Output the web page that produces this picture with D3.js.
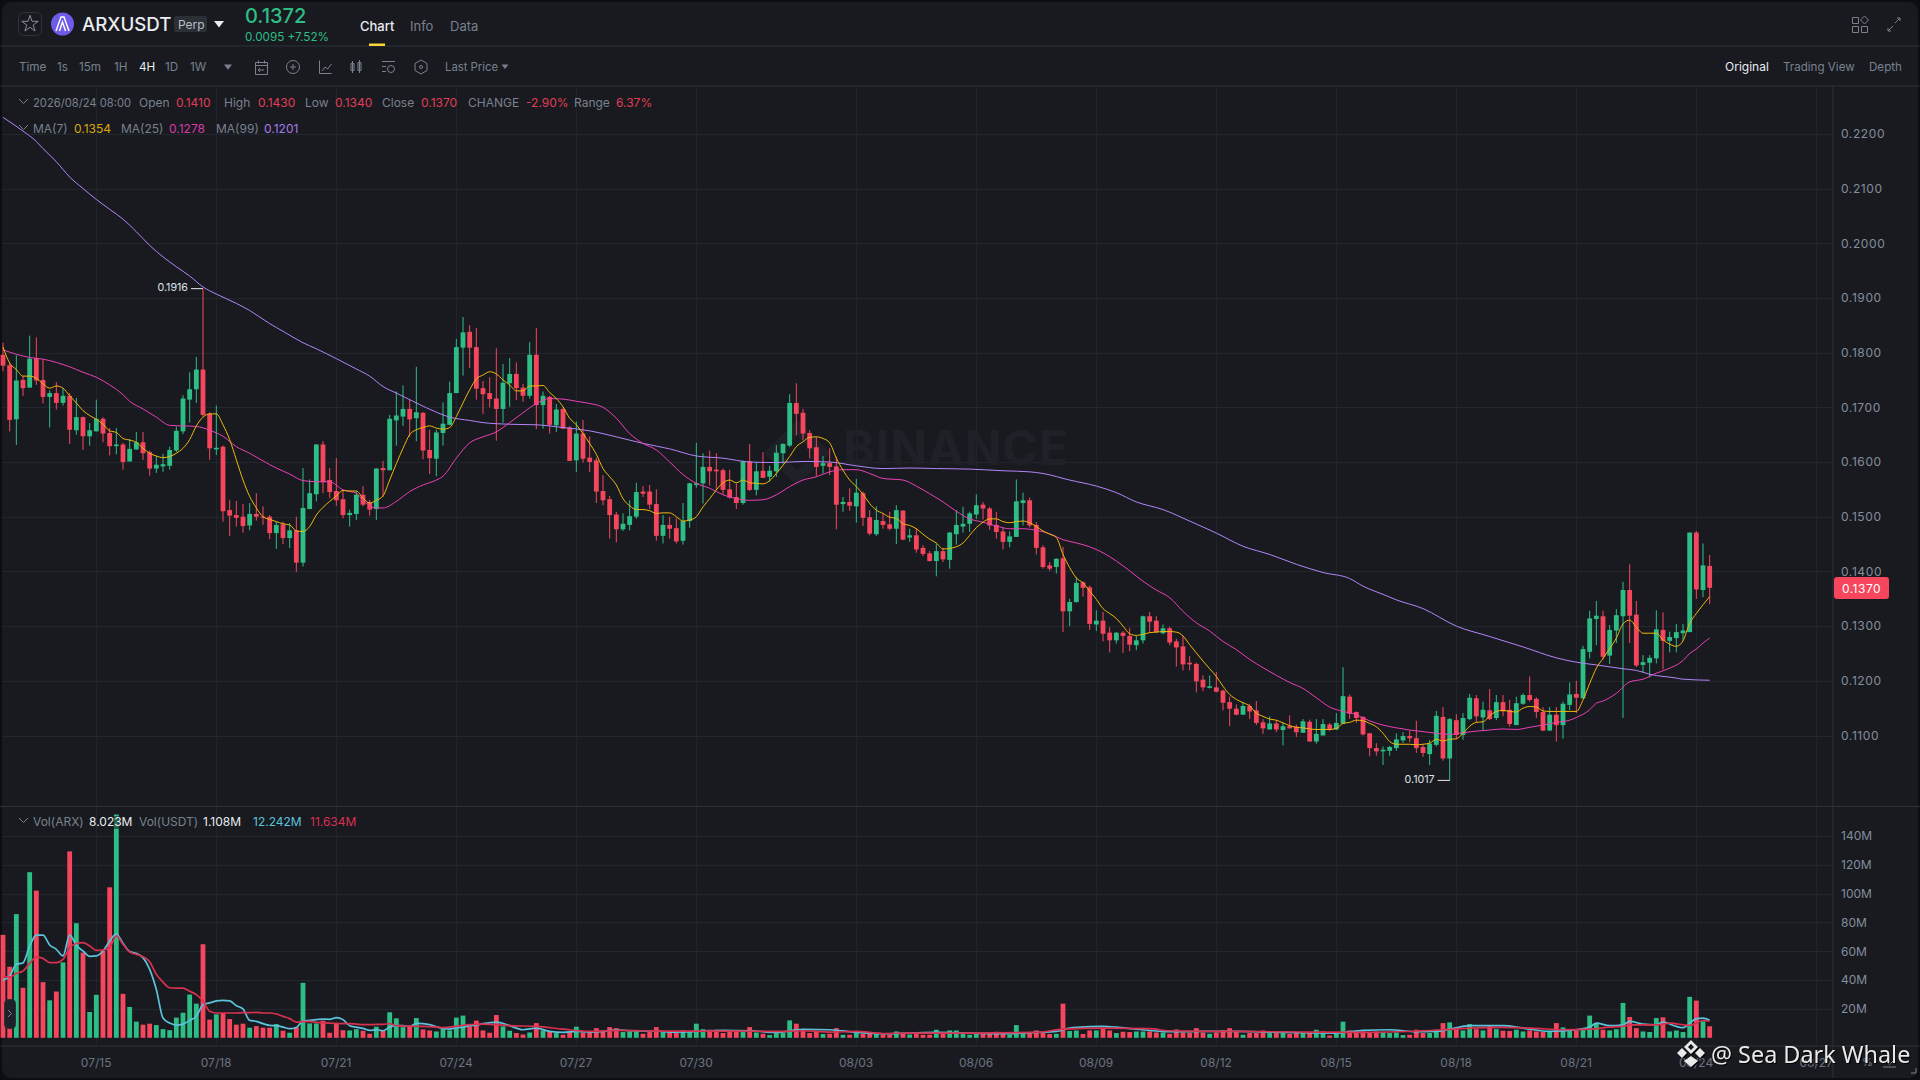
<!DOCTYPE html>
<html>
<head>
<meta charset="utf-8">
<title>ARXUSDT</title>
<script src="https://cdn.jsdelivr.net/npm/d3@7/dist/d3.min.js"></script>
<style>
html, body { margin: 0; padding: 0; background: #0b0d10; overflow: hidden; }
svg { display: block; }
text { font-family: Inter, Roboto, sans-serif; }
</style>
</head>
<body>
<div id="chart-area"></div>
<script>
// 4H candles, 07/12 16:00 to 08/24 08:00
const opens = [
1796,1777,1678,1750,1736,1790,1750,1719,1726,1708,1721,1658,1682,1647,1656,1679,1653,1629,1632,1601,
1623,1636,1618,1588,1592,1593,1621,1656,1714,1733,1769,1688,1623,1628,1512,1503,1500,1484,1505,1500,
1500,1470,1486,1461,1475,1416,1514,1541,1632,1567,1547,1532,1503,1505,1540,1526,1514,1589,1585,1676,
1683,1697,1680,1690,1622,1606,1653,1668,1726,1809,1838,1810,1735,1726,1716,1697,1744,1761,1736,1721,
1796,1704,1719,1667,1697,1663,1603,1652,1608,1603,1547,1532,1504,1477,1485,1500,1546,1546,1523,1465,
1485,1479,1456,1492,1558,1561,1591,1586,1585,1550,1536,1525,1601,1549,1584,1573,1583,1616,1630,1708,
1690,1653,1627,1593,1598,1592,1523,1527,1519,1543,1499,1468,1492,1486,1478,1511,1462,1466,1443,1433,
1419,1437,1421,1468,1482,1487,1504,1522,1515,1485,1473,1454,1463,1525,1530,1485,1444,1411,1408,1424,
1327,1344,1380,1371,1303,1310,1288,1274,1288,1282,1265,1274,1318,1310,1287,1296,1272,1263,1233,1231,
1202,1187,1188,1182,1161,1149,1138,1154,1146,1124,1111,1122,1110,1117,1116,1105,1125,1089,1100,1120,
1111,1122,1171,1143,1134,1104,1077,1071,1072,1077,1091,1099,1095,1079,1066,1083,1134,1058,1128,1101,
1130,1168,1133,1146,1132,1161,1147,1119,1158,1174,1167,1143,1109,1138,1119,1156,1176,1168,1253,1313,
1318,1246,1292,1318,1366,1321,1229,1233,1241,1293,1273,1278,1287,1289,1471,1366,1410
].map(d => d / 10000)
const highs = [
1818,1781,1795,1757,1831,1828,1787,1731,1746,1735,1726,1717,1683,1671,1714,1682,1662,1662,1635,1642,
1655,1655,1621,1611,1615,1628,1665,1722,1764,1792,1916,1691,1703,1630,1531,1529,1523,1525,1543,1519,
1503,1491,1491,1488,1500,1589,1568,1633,1638,1589,1607,1549,1513,1546,1556,1531,1589,1602,1686,1729,
1740,1714,1774,1691,1659,1659,1709,1747,1825,1865,1850,1845,1748,1755,1808,1779,1790,1782,1743,1819,
1845,1729,1721,1706,1700,1666,1674,1677,1647,1608,1576,1538,1509,1506,1530,1562,1556,1558,1550,1503,
1500,1497,1525,1562,1635,1616,1621,1616,1588,1586,1561,1603,1633,1599,1618,1593,1631,1634,1724,1744,
1697,1658,1646,1611,1625,1610,1536,1552,1569,1546,1512,1519,1506,1509,1521,1512,1478,1479,1448,1437,
1451,1443,1472,1512,1518,1509,1541,1527,1518,1509,1480,1473,1568,1544,1535,1490,1448,1417,1424,1445,
1350,1390,1382,1374,1329,1326,1298,1289,1291,1297,1282,1319,1326,1318,1303,1299,1277,1282,1245,1233,
1210,1210,1216,1184,1171,1157,1161,1158,1163,1130,1135,1128,1124,1137,1120,1130,1129,1130,1130,1123,
1141,1225,1175,1144,1135,1105,1086,1080,1081,1104,1106,1109,1127,1083,1092,1145,1152,1132,1139,1141,
1176,1174,1162,1185,1174,1174,1165,1171,1177,1208,1170,1152,1152,1152,1162,1197,1200,1264,1328,1346,
1328,1302,1331,1381,1413,1346,1247,1247,1329,1325,1290,1304,1304,1471,1474,1451,1430
].map(d => d / 10000)
const lows = [
1766,1656,1631,1721,1736,1741,1707,1663,1696,1703,1633,1650,1622,1630,1656,1636,1612,1614,1586,1601,
1622,1604,1575,1580,1582,1586,1618,1651,1672,1708,1683,1604,1613,1491,1465,1482,1471,1475,1493,1485,
1459,1441,1450,1443,1399,1409,1514,1528,1543,1534,1520,1497,1482,1494,1519,1502,1494,1536,1585,1630,
1666,1646,1638,1605,1578,1574,1630,1667,1726,1758,1772,1714,1688,1700,1639,1672,1701,1713,1710,1716,
1660,1661,1652,1655,1660,1602,1582,1599,1582,1525,1521,1460,1453,1474,1475,1496,1536,1514,1456,1451,
1460,1451,1449,1480,1553,1524,1557,1549,1541,1533,1514,1522,1547,1539,1571,1564,1573,1597,1627,1649,
1640,1607,1574,1579,1576,1477,1509,1511,1489,1483,1466,1465,1478,1475,1450,1457,1454,1434,1428,1418,
1391,1417,1405,1449,1471,1472,1496,1495,1476,1460,1440,1444,1463,1484,1480,1431,1405,1401,1396,1289,
1300,1343,1354,1293,1291,1272,1252,1268,1251,1254,1256,1268,1288,1287,1285,1265,1226,1219,1219,1179,
1181,1186,1179,1146,1117,1137,1138,1130,1119,1103,1111,1106,1082,1113,1097,1105,1089,1085,1100,1108,
1110,1121,1130,1123,1100,1062,1063,1046,1063,1072,1086,1088,1068,1061,1046,1080,1054,1017,1093,1092,
1128,1125,1110,1128,1128,1135,1116,1119,1156,1162,1132,1108,1108,1089,1094,1146,1141,1167,1241,1265,
1239,1231,1269,1132,1269,1225,1216,1206,1232,1221,1252,1252,1273,1289,1350,1353,1340
].map(d => d / 10000)
const closes = [
1776,1677,1749,1735,1789,1749,1719,1726,1708,1721,1659,1682,1647,1658,1679,1652,1629,1632,1600,1624,
1636,1616,1588,1595,1596,1622,1657,1716,1733,1769,1686,1625,1626,1510,1502,1498,1483,1505,1500,1498,
1470,1485,1461,1475,1416,1516,1543,1632,1563,1545,1530,1503,1507,1540,1522,1513,1588,1585,1679,1685,
1697,1678,1691,1621,1607,1654,1670,1726,1810,1837,1809,1734,1724,1715,1697,1745,1761,1735,1721,1796,
1704,1721,1668,1696,1661,1602,1652,1606,1600,1546,1530,1503,1477,1487,1501,1545,1542,1522,1465,1485,
1478,1455,1492,1561,1561,1591,1583,1583,1549,1535,1525,1601,1549,1583,1571,1584,1617,1633,1708,1688,
1652,1625,1591,1598,1591,1522,1527,1520,1544,1498,1469,1494,1485,1478,1512,1458,1466,1440,1432,1419,
1437,1422,1471,1485,1487,1506,1521,1515,1484,1472,1454,1464,1528,1530,1484,1443,1408,1405,1423,1327,
1344,1379,1370,1304,1310,1286,1274,1288,1282,1266,1274,1318,1308,1289,1296,1270,1261,1230,1230,1199,
1188,1190,1180,1160,1149,1138,1154,1144,1123,1113,1122,1111,1117,1113,1106,1126,1089,1103,1121,1111,
1123,1172,1140,1132,1102,1077,1071,1074,1079,1093,1099,1095,1077,1068,1085,1136,1058,1130,1101,1132,
1169,1135,1147,1130,1161,1144,1121,1159,1174,1165,1143,1109,1138,1119,1158,1175,1169,1258,1314,1319,
1244,1293,1320,1366,1319,1228,1234,1242,1294,1273,1280,1289,1292,1471,1367,1411,1370
].map(d => d / 10000)

// volume per candle, in millions
const volumes = [
71.4,49.3,85.8,34.7,114.9,102.1,38.6,26,32.1,52.3,129.3,79.5,59.1,17.9,29.8,60.2,104.4,154.9,30.5,21.4,
11.2,9.1,9.8,8.8,6,5.3,14,17.4,30,23.7,64.9,12.6,16.3,17.2,13,9.1,9.8,7,8.1,7,
7,9.5,4.9,3.5,7.4,38.1,10,10,11.9,3.5,10,5.3,5.1,6,4.9,2.8,7.7,4.9,17.7,13.5,
7.4,7.7,13.7,5.8,5.1,4.4,6.7,5.1,14,15.4,7.9,11.9,5.1,3.5,15.8,7.9,4.9,3.3,2.3,3.7,
10.2,5.1,4.4,3.3,2.1,4,7.7,3.7,3.7,6.7,4.4,7.4,6.7,4,4.4,4.4,2.8,4,7.4,4,
3.5,3.5,5.1,4,9.8,6,5.6,5.6,3.3,5.1,4.7,4,7.4,3.7,2.8,1.9,3.3,3.3,12.1,9.8,
4.7,3.3,4.7,2.6,2.8,6.7,2.1,2.1,3.3,2.8,2.8,3.3,2.3,2.3,4.4,2.8,2.3,2.6,2.1,2.1,
5.6,2.6,5.1,5.1,2.6,2.1,2.6,2.6,3,4.2,2.6,2.3,8.8,3.3,4,5.1,3.7,2.6,2.8,23.7,
4.7,5.1,2.6,5.1,5.1,6.5,5.1,3.3,4.2,4,4.4,4.4,4.4,3.7,3.7,2.8,5.8,3.7,3.5,6.7,
3.7,2.8,3.7,5.3,6.7,4,2.1,3.3,3.3,5.1,3.3,3.3,3.7,2.8,3.3,3.3,3.3,5.6,4.4,1.6,
2.8,11.2,5.1,4,4.4,3.7,4.4,3.7,3.3,3.7,1.9,2.1,5.6,3.3,3.3,5.6,10.2,10.7,7.2,5.1,
9.5,6,5.1,8.6,6,4.9,4.7,5.6,4.4,5.1,4.4,4,4.7,10.2,7.2,4.9,5.1,6.7,15.4,10.2,
5.6,5.1,6,24.2,14.4,6.7,4.4,4,13.7,14.2,4.4,5.1,4,28.4,25.8,11.4,8
]

const ma7 = [
1810,1781,1769,1757,1757,1753,1743,1735,1739,1735,1721,1708,1694,1685,1678,1669,1657,1654,1643,1640,
1636,1625,1616,1611,1608,1610,1616,1625,1641,1666,1682,1688,1688,1668,1641,1604,1567,1537,1516,1500,
1495,1491,1487,1485,1474,1473,1482,1503,1517,1528,1538,1548,1547,1547,1534,1525,1530,1538,1567,1597,
1625,1650,1659,1663,1666,1662,1660,1663,1683,1708,1732,1752,1759,1765,1761,1750,1741,1730,1730,1739,
1739,1740,1727,1716,1701,1680,1668,1652,1634,1614,1588,1573,1558,1533,1520,1513,1513,1511,1506,1507,
1507,1500,1492,1494,1500,1518,1533,1549,1562,1567,1562,1567,1562,1561,1560,1566,1579,1594,1610,1628,
1637,1645,1646,1643,1635,1607,1585,1567,1555,1541,1524,1512,1506,1499,1497,1487,1484,1478,1468,1459,
1452,1441,1442,1445,1452,1466,1480,1490,1496,1496,1491,1489,1491,1492,1489,1482,1474,1468,1462,1431,
1407,1388,1379,1364,1349,1332,1323,1314,1300,1286,1283,1285,1288,1289,1290,1290,1289,1282,1266,1251,
1236,1222,1208,1190,1175,1166,1160,1154,1141,1135,1130,1128,1123,1118,1115,1114,1112,1111,1111,1111,
1113,1122,1124,1128,1127,1122,1116,1104,1089,1084,1084,1084,1083,1084,1086,1093,1090,1093,1094,1104,
1117,1124,1125,1136,1144,1146,1144,1143,1150,1153,1152,1145,1144,1144,1144,1144,1144,1165,1195,1223,
1241,1259,1278,1304,1311,1298,1287,1287,1287,1275,1267,1263,1273,1305,1323,1339,1354
].map((d, i) => [i, d / 10000])

// read every couple of candles: [candle, price]
const ma25 = [
[0,1805],[2,1797],[4,1791],[6,1788],[8,1782],[10,1774],[12,1764],[14,1755],[16,1741],[18,1723],[19,1711],[21,1697],
[23,1682],[25,1667],[27,1666],[29,1665],[31,1658],[33,1647],[35,1628],[37,1616],[39,1602],[41,1589],[43,1578],[45,1566],
[47,1564],[49,1564],[51,1549],[53,1543],[54,1530],[56,1516],[57,1516],[59,1528],[61,1546],[63,1558],[65,1567],[66,1574],
[68,1607],[70,1635],[72,1646],[74,1655],[76,1672],[78,1690],[80,1707],[82,1716],[84,1715],[86,1711],[88,1707],[90,1700],
[92,1680],[94,1652],[96,1634],[98,1622],[100,1600],[102,1577],[104,1561],[106,1552],[108,1540],[110,1533],[112,1530],[114,1531],
[116,1540],[118,1555],[120,1567],[122,1573],[124,1582],[126,1586],[128,1586],[130,1579],[132,1570],[135,1567],[137,1556],[139,1542],
[141,1527],[143,1510],[145,1496],[147,1490],[149,1483],[151,1478],[153,1478],[155,1475],[157,1469],[159,1458],[161,1452],[163,1445],
[165,1434],[167,1419],[169,1401],[171,1382],[173,1366],[175,1352],[177,1327],[179,1306],[181,1291],[183,1272],[185,1257],[187,1239],
[189,1224],[191,1210],[193,1197],[195,1186],[197,1169],[199,1152],[201,1144],[203,1138],[204,1132],[207,1119],[209,1114],[211,1110],
[213,1107],[215,1104],[217,1102],[219,1105],[221,1108],[223,1110],[225,1112],[227,1111],[229,1115],[231,1119],[233,1124],[235,1128],
[236,1133],[238,1147],[239,1159],[240,1163],[242,1177],[244,1198],[246,1203],[248,1214],[250,1223],[252,1237],[253,1250],[254,1258],
[255,1269],[256,1278]
].map(d => [d[0], d[1] / 10000])

const ma99 = [
[0,2230],[3,2205],[5,2186],[6,2173],[8,2149],[10,2121],[12,2100],[14,2080],[16,2062],[18,2044],[20,2021],[22,1996],[24,1975],
[26,1957],[28,1940],[30,1920],[32,1907],[35,1890],[37,1877],[40,1853],[42,1839],[45,1818],[47,1807],[50,1789],[53,1770],[55,1757],
[57,1738],[59,1726],[62,1708],[65,1691],[67,1682],[70,1676],[72,1672],[76,1669],[80,1668],[84,1663],[88,1657],[92,1646],[96,1634],
[100,1624],[104,1611],[108,1607],[112,1600],[116,1599],[120,1601],[124,1600],[128,1593],[132,1588],[136,1589],[140,1588],[145,1587],
[150,1584],[154,1582],[156,1579],[160,1567],[164,1556],[167,1544],[170,1527],[174,1513],[178,1492],[182,1470],[186,1446],[190,1431],
[194,1413],[198,1398],[202,1387],[204,1373],[207,1358],[209,1348],[213,1332],[218,1300],[223,1281],[228,1262],[233,1242],[236,1234],
[239,1229],[243,1222],[245,1219],[247,1212],[251,1205],[252,1203],[256,1201]
].map(d => [d[0], d[1] / 10000])

const volFast = [
[0,40],[1,42.8],[2,51],[3,52],[4,63.7],[5,71.2],[6,71.2],[7,64.4],[8,61.4],[9,56.8],[10,71.2],[11,64.2],[12,60.2],[13,56.5],[14,56.8],
[15,60.2],[16,67.2],[17,71.9],[18,65.6],[19,59.8],[20,58.6],[21,55.6],[22,47.5],[23,33.5],[24,13.7],[25,10.2],[26,8.8],[27,9.5],[28,12.1],
[29,14.9],[30,23],[31,24.2],[32,25.6],[33,26],[34,25.6],[35,22.3],[36,20],[37,12.1],[38,11.4],[39,9.8],[40,8.6],[41,8.4],[42,7.4],[43,6.3],
[44,7.2],[45,11.6],[46,12.1],[47,12.6],[48,13],[49,12.8],[50,14],[51,12.6],[52,8.4],[53,7.4],[54,6.5],[55,5.1],[56,5.6],[57,4.9],[58,7.4],
[59,8.4],[60,8.4],[61,7.9],[62,10],[63,9.8],[64,9.1],[65,7.7],[66,6.5],[67,6],[68,7],[69,7.4],[70,8.4],[71,8.8],[72,9.8],[74,10.9],[76,8.4],
[78,5.6],[80,6.7],[82,4.4],[84,3.7],[86,4.4],[88,4],[90,4.4],[92,5.6],[94,4.9],[98,4.7],[100,4],[104,4.4],[108,5.1],[112,4.9],[116,3.7],
[120,5.8],[124,5.6],[128,3.7],[132,2.8],[136,3.3],[140,3.7],[145,3.3],[150,2.8],[155,3.7],[158,4.4],[160,6.7],[161,7.2],[165,7.9],[167,7.4],
[170,6],[175,4.2],[180,4.4],[185,4.4],[190,4],[195,3.5],[200,3.3],[204,5.1],[208,5.6],[212,4.2],[215,4.4],[217,6],[220,8.4],[225,8.4],[228,6.7],
[232,4.4],[236,5.6],[238,7.4],[239,10.2],[241,8.4],[243,9],[244,11.4],[246,9.5],[248,9],[249,10.9],[251,7.9],[252,7],[254,13.3],[255,13.7],[256,12.2]
]
const volSlow = [
[0,42.8],[1,42.1],[2,44.7],[3,46.3],[4,51.6],[5,56],[6,55.1],[7,52.1],[8,52.1],[9,54.4],[10,62.6],[11,65.4],[12,66],[13,63.7],[14,60.7],[15,60.9],
[16,62.6],[17,70.7],[18,64.9],[19,59.5],[20,57.9],[21,56.3],[22,52.8],[23,44],[24,38.6],[25,34.7],[26,34.4],[27,34.4],[28,32.3],[29,30],[30,25.4],
[31,18.4],[32,17.2],[33,17.2],[34,17.2],[35,17.2],[36,17.4],[37,17.4],[38,17.7],[39,17.2],[40,17.2],[41,16.5],[42,14.9],[43,13.3],[44,10.9],[45,11.2],
[46,11.4],[47,10.7],[48,10.5],[49,10.2],[50,10],[51,9.8],[52,9.8],[53,9.5],[54,9.1],[55,9.1],[56,9.3],[57,9.3],[58,9.8],[59,8.4],[60,8.1],[61,8.1],
[62,7.9],[63,7.9],[64,7.7],[65,7.4],[66,7],[67,7.4],[68,7.9],[69,8.6],[70,9.1],[71,9.3],[72,9.5],[76,8.4],[80,7.9],[84,6],[88,4.4],[92,5.1],[96,4.9],
[100,4.7],[104,4.7],[110,4.7],[116,4.4],[120,4.9],[124,4],[128,4.4],[132,3],[136,3.3],[145,3.3],[155,3.7],[159,6],[165,6.7],[172,6.3],[175,4.9],[185,4.4],
[195,4],[204,3.7],[216,5.6],[220,6.7],[225,7.2],[230,6.5],[234,5.6],[238,6],[241,7.4],[243,7.9],[244,9],[248,9],[250,10.2],[253,8.6],[255,12],[256,11.6]
]

const priceTicks = [0.22, 0.21, 0.20, 0.19, 0.18, 0.17, 0.16, 0.15, 0.14, 0.13, 0.12, 0.11]
const volumeTicks = [20, 40, 60, 80, 100, 120, 140]
const dateTicks = [14, 32, 50, 68, 86, 104, 128, 146, 164, 182, 200, 218, 236, 254, 272]
const dateLabels = ['07/15','07/18','07/21','07/24','07/27','07/30','08/03','08/06','08/09','08/12','08/15','08/18','08/21','08/24','08/27']

const W = 1920, H = 1080
const AXIS_X = 1833
const GREEN = '#2ebd85', RED = '#f6465d', GRID = '#22262d', LINE = '#2b3139', DIM = '#79818e'
const LEG_RED = '#e23d56'
const GOLD = '#f0b90b', PINK = '#eb40b5', PURPLE = '#b385f8', CYAN = '#5bc3dc', CRIMSON = '#d8304f'

const svg = d3.select('#chart-area').append('svg')
	.attr('width', W)
	.attr('height', H)

svg.append('rect')
	.attr('x', 2).attr('y', 2)
	.attr('width', W - 4).attr('height', H - 4)
	.attr('rx', 9)
	.attr('fill', '#181a20')

const x = d3.scaleLinear().domain([0, 272]).range([3, 3 + 272 * 20 / 3])
const y = d3.scaleLinear().domain([0.22, 0.11]).range([133.8, 735.5])
const yVol = d3.scaleLinear().domain([0, 140]).range([1037.8, 836])

// grid
const grid = svg.append('g')
grid.selectAll('.gx').data(dateTicks).enter().append('line')
	.attr('x1', d => x(d)).attr('x2', d => x(d))
	.attr('y1', 86).attr('y2', 1046)
	.attr('stroke', GRID)
grid.selectAll('.gy').data(priceTicks).enter().append('line')
	.attr('x1', 2).attr('x2', AXIS_X)
	.attr('y1', d => Math.round(y(d)) + .5).attr('y2', d => Math.round(y(d)) + .5)
	.attr('stroke', GRID)
grid.selectAll('.gv').data(volumeTicks).enter().append('line')
	.attr('x1', 2).attr('x2', AXIS_X)
	.attr('y1', d => Math.round(yVol(d)) + .5).attr('y2', d => Math.round(yVol(d)) + .5)
	.attr('stroke', GRID)

// exchange mark behind the candles
const mark = svg.append('g').attr('fill', '#1e2127')
mark.append('path')
	.attr('d', 'M797 420 L830 453 L797 486 L764 453 Z M797 436 L780 453 L797 470 L814 453 Z')
	.attr('fill-rule', 'evenodd')
mark.append('text')
	.attr('x', 843).attr('y', 465)
	.attr('font-size', 48).attr('font-weight', 700)
	.attr('letter-spacing', 1)
	.text('BINANCE')

// volume pane
const volColor = i => closes[i] >= opens[i] ? GREEN : RED
svg.append('g').selectAll('rect').data(volumes).enter().append('rect')
	.attr('x', (d, i) => x(i) - 2.4)
	.attr('width', 4.8)
	.attr('y', d => yVol(d))
	.attr('height', d => yVol(0) - yVol(d))
	.attr('fill', (d, i) => volColor(i))

const volLine = d3.line()
	.x(d => x(d[0]))
	.y(d => yVol(d[1]))
	.curve(d3.curveMonotoneX)
svg.append('path').datum(volFast)
	.attr('d', volLine).attr('fill', 'none')
	.attr('stroke', CYAN).attr('stroke-width', 1.7)
svg.append('path').datum(volSlow)
	.attr('d', volLine).attr('fill', 'none')
	.attr('stroke', CRIMSON).attr('stroke-width', 1.7)

// candles
const candles = svg.append('g').selectAll('g').data(d3.range(opens.length)).enter().append('g')
	.attr('fill', i => volColor(i))
candles.append('rect')
	.attr('x', i => x(i) - .5)
	.attr('width', 1)
	.attr('y', i => y(highs[i]))
	.attr('height', i => y(lows[i]) - y(highs[i]))
candles.append('rect')
	.attr('x', i => x(i) - 2.4)
	.attr('width', 4.8)
	.attr('y', i => y(Math.max(opens[i], closes[i])))
	.attr('height', i => Math.max(1, Math.abs(y(opens[i]) - y(closes[i]))))

// moving averages
const maLine = d3.line()
	.x(d => x(d[0]))
	.y(d => y(d[1]))
	.curve(d3.curveMonotoneX)
const maSeries = [[ma99, PURPLE], [ma25, PINK], [ma7, GOLD]]
maSeries.forEach(s => {
	svg.append('path').datum(s[0])
		.attr('d', maLine).attr('fill', 'none')
		.attr('stroke', s[1]).attr('stroke-width', 1)
})

// max / min labels
const extreme = (i, v, txt) => {
	svg.append('line')
		.attr('x1', x(i) - 12).attr('x2', x(i))
		.attr('y1', y(v) - .5).attr('y2', y(v) - .5)
		.attr('stroke', '#eaecef')
	svg.append('text')
		.attr('x', x(i) - 15).attr('y', y(v) + 2)
		.attr('text-anchor', 'end')
		.attr('font-size', 10.7).attr('fill', '#dfe2e6')
		.text(txt)
}
extreme(30, 0.1916, '0.1916')
extreme(217, 0.1017, '0.1017')

// axes
const styleAxis = (g, color) => {
	g.select('.domain').remove()
	g.selectAll('.tick line').remove()
	g.selectAll('text')
		.attr('fill', color).attr('font-size', 12)
		.style('font-family', 'Inter, Roboto, sans-serif')
}
svg.append('g')
	.attr('transform', `translate(${AXIS_X}, 0)`)
	.call(d3.axisRight(y).tickValues(priceTicks).tickFormat(d3.format('.4f')).tickSize(0).tickPadding(8))
	.call(styleAxis, '#848e9c')
	.selectAll('text').attr('letter-spacing', .6)
svg.append('g')
	.attr('transform', `translate(${AXIS_X}, 0)`)
	.call(d3.axisRight(yVol).tickValues(volumeTicks).tickFormat(d => d + 'M').tickSize(0).tickPadding(8))
	.call(styleAxis, '#848e9c')
svg.append('g')
	.attr('transform', 'translate(-.7, 1052)')
	.call(d3.axisBottom(x).tickValues(dateTicks).tickFormat((d, i) => dateLabels[i]).tickSize(0).tickPadding(6))
	.call(styleAxis, '#6b7380')

// frame lines
const frame = [[0, 46, W, 46], [0, 86, W, 86], [0, 806.5, W, 806.5], [0, 1046, W, 1046], [AXIS_X, 86, AXIS_X, 1078]]
svg.append('g').selectAll('line').data(frame).enter().append('line')
	.attr('x1', d => d[0]).attr('y1', d => d[1])
	.attr('x2', d => d[2]).attr('y2', d => d[3])
	.attr('stroke', LINE)

// last price tag
svg.append('rect')
	.attr('x', 1834).attr('y', 577)
	.attr('width', 55).attr('height', 22)
	.attr('rx', 3).attr('fill', RED)
svg.append('text')
	.attr('x', 1861.5).attr('y', 592.5)
	.attr('text-anchor', 'middle')
	.attr('font-size', 12).attr('fill', '#fff')
	.attr('letter-spacing', .5)
	.text('0.1370')

svg.append('rect').attr('x', 174).attr('y', 16).attr('width', 33).attr('height', 16).attr('rx', 2).attr('fill', '#2b2f36')

// legend row dims whatever runs behind it
svg.append('rect')
	.attr('x', 110).attr('y', 816)
	.attr('width', 14).attr('height', 13)
	.attr('fill', '#181a20').attr('opacity', .55)

// header and legend text: [x, baseline, text, color, size, weight]
const WHITE = '#eaecef'
const labels = [
	[82, 31, 'ARXUSDT', WHITE, 18.7, 500],
	[178, 28.5, 'Perp', '#b7bdc6', 12, 400],
	[245, 23, '0.1372', GREEN, 20, 500],
	[245, 41, '0.0095 +7.52%', GREEN, 11.7, 400],
	[360, 31, 'Chart', WHITE, 13, 500],
	[410, 31, 'Info', DIM, 13, 400],
	[450, 31, 'Data', DIM, 13, 400],
	[19, 71, 'Time', DIM, 11.7, 400],
	[57, 71, '1s', DIM, 11.7, 400],
	[79, 71, '15m', DIM, 11.7, 400],
	[114, 71, '1H', DIM, 11.7, 400],
	[139, 71, '4H', WHITE, 11.7, 400],
	[165, 71, '1D', DIM, 11.7, 400],
	[190, 71, '1W', DIM, 11.7, 400],
	[445, 71, 'Last Price', DIM, 11.3, 400],
	[1725, 71, 'Original', WHITE, 12, 400],
	[1783, 71, 'Trading View', DIM, 11.6, 400],
	[1869, 71, 'Depth', DIM, 11.6, 400],
	[33, 107, '2026/08/24 08:00', DIM, 11.2, 400],
	[139, 107, 'Open', DIM, 12, 400],
	[176, 107, '0.1410', LEG_RED, 12, 400],
	[224, 107, 'High', DIM, 12, 400],
	[258, 107, '0.1430', LEG_RED, 12, 400],
	[305, 107, 'Low', DIM, 12, 400],
	[335, 107, '0.1340', LEG_RED, 12, 400],
	[382, 107, 'Close', DIM, 12, 400],
	[421, 107, '0.1370', LEG_RED, 12, 400],
	[468, 107, 'CHANGE', DIM, 12, 400],
	[526, 107, '-2.90%', LEG_RED, 12, 400],
	[574, 107, 'Range', DIM, 12, 400],
	[616, 107, '6.37%', LEG_RED, 12, 400],
	[33, 133, 'MA(7)', DIM, 12, 400],
	[74, 133, '0.1354', '#dda70c', 12, 400],
	[121, 133, 'MA(25)', DIM, 12, 400],
	[169, 133, '0.1278', '#d83aa6', 12, 400],
	[216, 133, 'MA(99)', DIM, 12, 400],
	[264, 133, '0.1201', '#a67ae8', 12, 400],
	[33, 826, 'Vol(ARX)', DIM, 12, 400],
	[89, 826, '8.023M', WHITE, 12, 400],
	[139, 826, 'Vol(USDT)', DIM, 12, 400],
	[203, 826, '1.108M', WHITE, 12, 400],
	[253, 826, '12.242M', CYAN, 12, 400],
	[310, 826, '11.634M', CRIMSON, 12, 400],
	[1862, 1066, '%', DIM, 11, 400]
]

svg.append('g').selectAll('text').data(labels).enter().append('text')
	.attr('x', d => d[0]).attr('y', d => d[1])
	.attr('fill', d => d[3])
	.attr('font-size', d => d[4])
	.attr('font-weight', d => d[5])
	.text(d => d[2])

// header bits
svg.append('rect')
	.attr('x', 18.5).attr('y', 12.5).attr('width', 23).attr('height', 23).attr('rx', 5)
	.attr('fill', 'none').attr('stroke', '#2f343c')
svg.append('path')
	.attr('d', d3.symbol().type(d3.symbolStar).size(85)())
	.attr('transform', 'translate(30, 24)')
	.attr('fill', 'none').attr('stroke', '#848e9c')
svg.append('circle').attr('cx', 62.5).attr('cy', 24).attr('r', 11.5).attr('fill', '#6c5ce7')
svg.append('path')
	.attr('d', 'M56 31 L61 17 L64 17 L69 31 M59.5 31 L62.5 22 L65.5 31')
	.attr('fill', 'none').attr('stroke', '#fff').attr('stroke-width', 1.4)

const triangles = [[219, 24, 5, WHITE], [228, 67, 4, DIM], [505, 66.5, 3.5, DIM]]
svg.append('g').selectAll('path').data(triangles).enter().append('path')
	.attr('d', d => `M${d[0] - d[2]} ${d[1] - d[2] * .6} H${d[0] + d[2]} L${d[0]} ${d[1] + d[2] * .7} Z`)
	.attr('fill', d => d[3])

svg.append('rect').attr('x', 369).attr('y', 43.5).attr('width', 16).attr('height', 2.5).attr('fill', '#fcd535')

// toolbar icons
const icons = svg.append('g').attr('fill', 'none').attr('stroke', DIM).attr('stroke-width', 1)
icons.append('path').attr('d', 'M255.5 62.5 h12 v12 h-12 z M255.5 65.5 h12 M258.5 60.5 v3 M264.5 60.5 v3 M264 70 h-6 l2 -2 M258 70 l2 2')
icons.append('circle').attr('cx', 293).attr('cy', 67).attr('r', 6.5)
icons.append('path').attr('d', 'M293 64 v6 M290 67 h6')
icons.append('path').attr('d', 'M319.5 60.5 v13 h12 M322 71 l3 -4 l2.5 2 l4 -5')
icons.append('path').attr('d', 'M351 63.5 h3 v7 h-3 z M352.5 61 v12 M358 62.5 h3 v8 h-3 z M359.5 60 v13')
icons.append('path').attr('d', 'M382 61.5 h13 M382 66.5 h4 M382 71.5 h4')
icons.append('circle').attr('cx', 391).attr('cy', 69).attr('r', 3.5)
icons.append('path').attr('d', 'M421 60 l6 3.5 v7 l-6 3.5 l-6 -3.5 v-7 z')
icons.append('circle').attr('cx', 421).attr('cy', 67).attr('r', 1.5)
icons.append('path').attr('d', 'M1852.5 17.5 h6 v6 h-6 z M1852.5 26.5 h6 v6 h-6 z M1861.5 26.5 h6 v6 h-6 z M1864.5 16 l4 4 l-4 4 l-4 -4 z')
icons.append('path').attr('d', 'M1888 31 l5 -5 M1888 28 v3 h3 M1900 18 l-5 5 M1900 21 v-3 h-3')
icons.append('path').attr('d', 'M19 99 l4.5 4.5 l4.5 -4.5 M19 125 l4.5 4.5 l4.5 -4.5 M19 818 l4.5 4.5 l4.5 -4.5')

// collapse handle on the left of the volume pane
svg.append('rect')
	.attr('x', 4.5).attr('y', 999.5).attr('width', 11).attr('height', 29).attr('rx', 4)
	.attr('fill', '#1e2127').attr('stroke', '#2b3139')
svg.append('path').attr('d', 'M8 1010 l3.5 3.5 l-3.5 3.5').attr('fill', 'none').attr('stroke', DIM)

// bottom right controls
svg.append('path').attr('d', 'M1883 1067 h13 M1889.5 1056 v8 M1886 1061 l3.5 3.5 l3.5 -3.5 M1911 1073 h5 v-5')
	.attr('fill', 'none').attr('stroke', DIM)

// uploader stamp
const stamp = svg.append('g').attr('fill', '#e9e9e9')
stamp.append('path').attr('d', 'M1691 1040 L1698 1047 L1691 1054 L1684 1047 Z M1691 1044 L1688 1047 L1691 1050 L1694 1047 Z M1682 1048 L1687 1053 L1682 1058 L1677 1053 Z M1700 1048 L1705 1053 L1700 1058 L1695 1053 Z M1691 1056 L1698 1061 L1691 1067 L1684 1061 Z')
	.attr('fill-rule', 'evenodd')
	.style('filter', 'drop-shadow(1px 1px 0 #000)')
stamp.append('text')
	.attr('x', 1711).attr('y', 1063)
	.attr('font-size', 23.4)
	.style('font-family', '"Noto Sans", sans-serif')
	.style('filter', 'drop-shadow(1px 1px 0 #000)')
	.text('@ Sea Dark Whale')
</script>
</body>
</html>
